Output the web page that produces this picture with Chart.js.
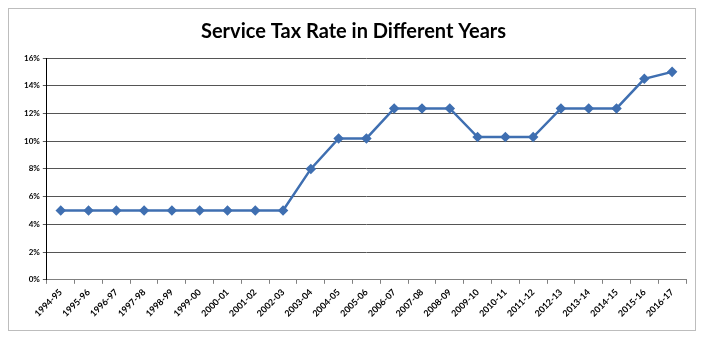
<!DOCTYPE html>
<html>
<head>
<meta charset="utf-8">
<script src="https://cdn.jsdelivr.net/npm/chart.js@4"></script>
<style>
  html, body { margin: 0; padding: 0; background: #fff; }
  #box {
    position: absolute; left: 8px; top: 8px;
    width: 688px; height: 323px;
    border: 1px solid #bdbdbd; box-sizing: border-box;
  }
  canvas { display: block; }
</style>
</head>
<body>
<div id="box"><canvas id="chart"></canvas></div>
<script>
  // Données
  const years = ['1994-95', '1995-96', '1996-97', '1997-98', '1998-99', '1999-00', '2000-01', '2001-02',
    '2002-03', '2003-04', '2004-05', '2005-06', '2006-07', '2007-08', '2008-09', '2009-10',
    '2010-11', '2011-12', '2012-13', '2013-14', '2014-15', '2015-16', '2016-17'];
  const taxRate = [5, 5, 5, 5, 5, 5, 5, 5, 5, 8, 10.2, 10.2, 12.36, 12.36, 12.36, 10.3,
    10.3, 10.3, 12.36, 12.36, 12.36, 14.5, 15];
  const titleText = 'Service Tax Rate in Different Years';

  const blue = '#3f6fb1';
  const font = "Lato, 'Open Sans', sans-serif";

  new Chart(document.getElementById('chart'), {
    type: 'line',
    data: {
      labels: years,
      datasets: [{
        label: 'Service Tax Rate',
        data: taxRate,
        borderColor: blue,
        backgroundColor: blue,
        borderWidth: 2.5,
        lineTension: 0,
        pointStyle: 'rectRot',
        pointRadius: 3.5,
        pointBackgroundColor: blue,
        pointBorderColor: blue
      }]
    },
    options: {
      responsive: true,
      maintainAspectRatio: false,
      animation: false,
      layout: { padding: { left: 12, right: 9, top: 6, bottom: 8 } },
      plugins: {
        legend: { display: false },
        tooltip: { enabled: false },
        title: {
          display: true,
          text: titleText,
          color: '#000',
          font: { family: font, size: 20, weight: 'bold' },
          padding: { top: 5, bottom: 14 }
        }
      },
      scales: {
        x: {
          offset: true,
          grid: { drawOnChartArea: false, offset: true, tickLength: 4, color: '#808080' },
          border: { color: '#808080' },
          ticks: {
            color: '#000',
            font: { family: font, size: 9, weight: 'bold' },
            maxRotation: 45, minRotation: 45, padding: 3
          }
        },
        y: {
          min: 0, max: 16,
          grid: { color: '#555', tickLength: 4 },
          border: { color: '#000' },
          ticks: {
            stepSize: 2,
            color: '#000',
            font: { family: font, size: 8, weight: 'bold' },
            callback: v => v + '%'
          }
        }
      }
    }
  });
</script>
</body>
</html>
